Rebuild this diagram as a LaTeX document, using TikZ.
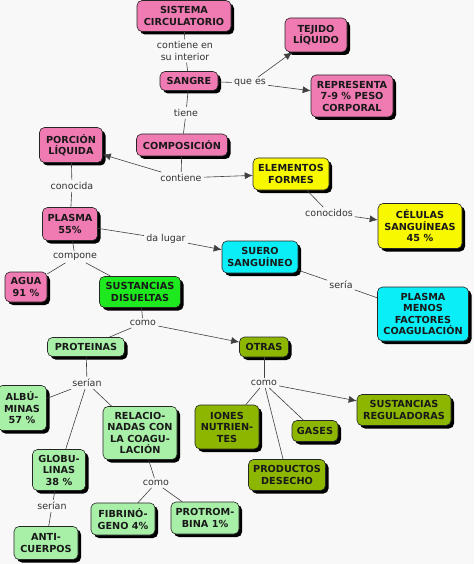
\documentclass[tikz,border=0pt]{standalone}
\usepackage{fontspec}
\setmainfont{DejaVu Sans}
\usetikzlibrary{shadows,arrows.meta}
\definecolor{bg}{RGB}{248,248,248}
\definecolor{cpink}{RGB}{240,122,178}
\definecolor{cyel}{RGB}{248,248,0}
\definecolor{ccyan}{RGB}{10,238,248}
\definecolor{cgreen}{RGB}{30,232,30}
\definecolor{clgreen}{RGB}{168,240,168}
\definecolor{colive}{RGB}{140,182,0}
\definecolor{ctxt}{RGB}{50,50,50}
\tikzset{
  box/.style={draw=black!85, line width=0.6pt, rounded corners=5pt, align=center,
    inner sep=1pt, font=\fontsize{9.7}{11.5}\selectfont\bfseries, text=black!90,
    drop shadow={shadow xshift=3pt, shadow yshift=-3pt, fill=black, opacity=1}},
  pink/.style={box, fill=cpink},
  yel/.style={box, fill=cyel},
  cyan/.style={box, fill=ccyan},
  grn/.style={box, fill=cgreen},
  lgrn/.style={box, fill=clgreen},
  oliv/.style={box, fill=colive},
  lab/.style={inner sep=2pt, align=center, text=ctxt, font=\fontsize{9.5}{11.5}\selectfont},
  con/.style={draw=black!75, line width=0.6pt},
  arr/.style={con, -{Latex[length=8pt,width=7pt]}},
  sz/.style 2 args={minimum width=#1pt, minimum height=#2pt}
}
\begin{document}
\begin{tikzpicture}[x=1pt,y=-1pt]
\useasboundingbox[fill=bg] (0,0) rectangle (474,564);
% nodes
\node[pink,sz={94}{31}] (sis) at (184,16) {SISTEMA\\CIRCULATORIO};
\node[pink,sz={58}{19}] (sangre) at (189,81) {SANGRE};
\node[pink,sz={62}{34}] (tejido) at (316,35) {TEJIDO\\LÍQUIDO};
\node[pink,sz={82}{42}] (repr) at (352,96) {REPRESENTA\\7-9 \% PESO\\CORPORAL};
\node[pink,sz={91}{22}] (comp) at (182,145) {COMPOSICIÓN};
\node[pink,sz={63}{35}] (porcion) at (71,145) {PORCIÓN\\LÍQUIDA};
\node[yel,sz={76}{32}] (elem) at (291,174) {ELEMENTOS\\FORMES};
\node[yel,sz={84}{45}] (cel) at (420,226) {CÉLULAS\\SANGUÍNEAS\\45 \%};
\node[pink,sz={55}{33}] (plasma) at (70,224) {PLASMA\\55\%};
\node[cyan,sz={76}{32}] (suero) at (260,257) {SUERO\\SANGUÍNEO};
\node[pink,sz={42}{30}] (agua) at (26,287) {AGUA\\91 \%};
\node[grn,sz={81}{31}] (sustdis) at (140,292) {SUSTANCIAS\\DISUELTAS};
\node[cyan,sz={91}{54}] (pmenos) at (423,314) {PLASMA\\MENOS\\FACTORES\\COAGULACIÓN};
\node[lgrn,sz={77}{19}] (prot) at (86,347) {PROTEINAS};
\node[oliv,sz={49}{20}] (otras) at (264,347) {OTRAS};
\node[lgrn,sz={49}{45}] (alb) at (22,408) {ALBÚ-\\MINAS\\57 \%};
\node[lgrn,sz={74}{53}] (relac) at (140,433) {RELACIO-\\NADAS CON\\LA COAGU-\\LACIÓN};
\node[oliv,sz={64}{44}] (iones) at (227,427) {IONES\\NUTRIEN-\\TES};
\node[oliv,sz={46}{21}] (gases) at (315,431) {GASES};
\node[oliv,sz={94}{31}] (sustreg) at (404,410) {SUSTANCIAS\\REGULADORAS};
\node[lgrn,sz={53}{41}] (glob) at (59,470) {GLOBU-\\LINAS\\38 \%};
\node[oliv,sz={77}{31}] (prod) at (287,475) {PRODUCTOS\\DESECHO};
\node[lgrn,sz={64}{32}] (fib) at (123,519) {FIBRINÓ-\\GENO 4\%};
\node[lgrn,sz={68}{32}] (protr) at (205,518) {PROTROM-\\BINA 1\%};
\node[lgrn,sz={64}{33}] (anti) at (46,543) {ANTI-\\CUERPOS};
% labels
\node[lab] (l1) at (185,51) {contiene en\\su interior};
\node[lab] (l2) at (250,83) {que es};
\node[lab] (l3) at (186,113) {tiene};
\node[lab] (l4) at (181,178) {contiene};
\node[lab] (l5) at (72,186) {conocida};
\node[lab] (l6) at (329,213) {conocidos};
\node[lab] (l7) at (166,239) {da lugar};
\node[lab] (l8) at (75,257) {compone};
\node[lab] (l9) at (341,285) {sería};
\node[lab] (l10) at (143,323) {como};
\node[lab] (l11) at (87,383) {serían};
\node[lab] (l12) at (264,383) {como};
\node[lab] (l13) at (156,483) {como};
\node[lab] (l14) at (52,506) {serían};
% connectors
\draw[con] (sis) -- (l1); \draw[con] (l1) -- (sangre);
\draw[con] (sangre) -- (l2); \draw[arr] (l2) -- (tejido); \draw[arr] (l2) -- (repr);
\draw[con] (sangre) -- (l3); \draw[con] (l3) -- (comp);
\draw[con] (comp) -- (l4); \draw[arr] (l4) -- (porcion); \draw[arr] (l4) -- (elem);
\draw[con] (porcion) -- (l5); \draw[con] (l5) -- (plasma);
\draw[con] (elem) -- (l6); \draw[arr] (l6) -- (cel);
\draw[con] (plasma) -- (l7); \draw[arr] (l7) -- (suero);
\draw[con] (plasma) -- (l8); \draw[con] (l8) -- (agua); \draw[con] (l8) -- (sustdis);
\draw[con] (suero) -- (l9); \draw[con] (l9) -- (pmenos);
\draw[con] (sustdis) -- (l10); \draw[con] (l10) -- (prot); \draw[arr] (l10) -- (otras);
\draw[con] (prot) -- (l11); \draw[con] (l11) -- (alb); \draw[con] (l11) -- (glob); \draw[con] (l11) -- (relac);
\draw[con] (otras) -- (l12); \draw[con] (l12) -- (iones); \draw[con] (l12) -- (prod); \draw[con] (l12) -- (gases); \draw[arr] (l12) -- (sustreg);
\draw[con] (relac) -- (l13); \draw[con] (l13) -- (fib); \draw[con] (l13) -- (protr);
\draw[con] (glob) -- (l14); \draw[con] (l14) -- (anti);
\end{tikzpicture}
\end{document}
